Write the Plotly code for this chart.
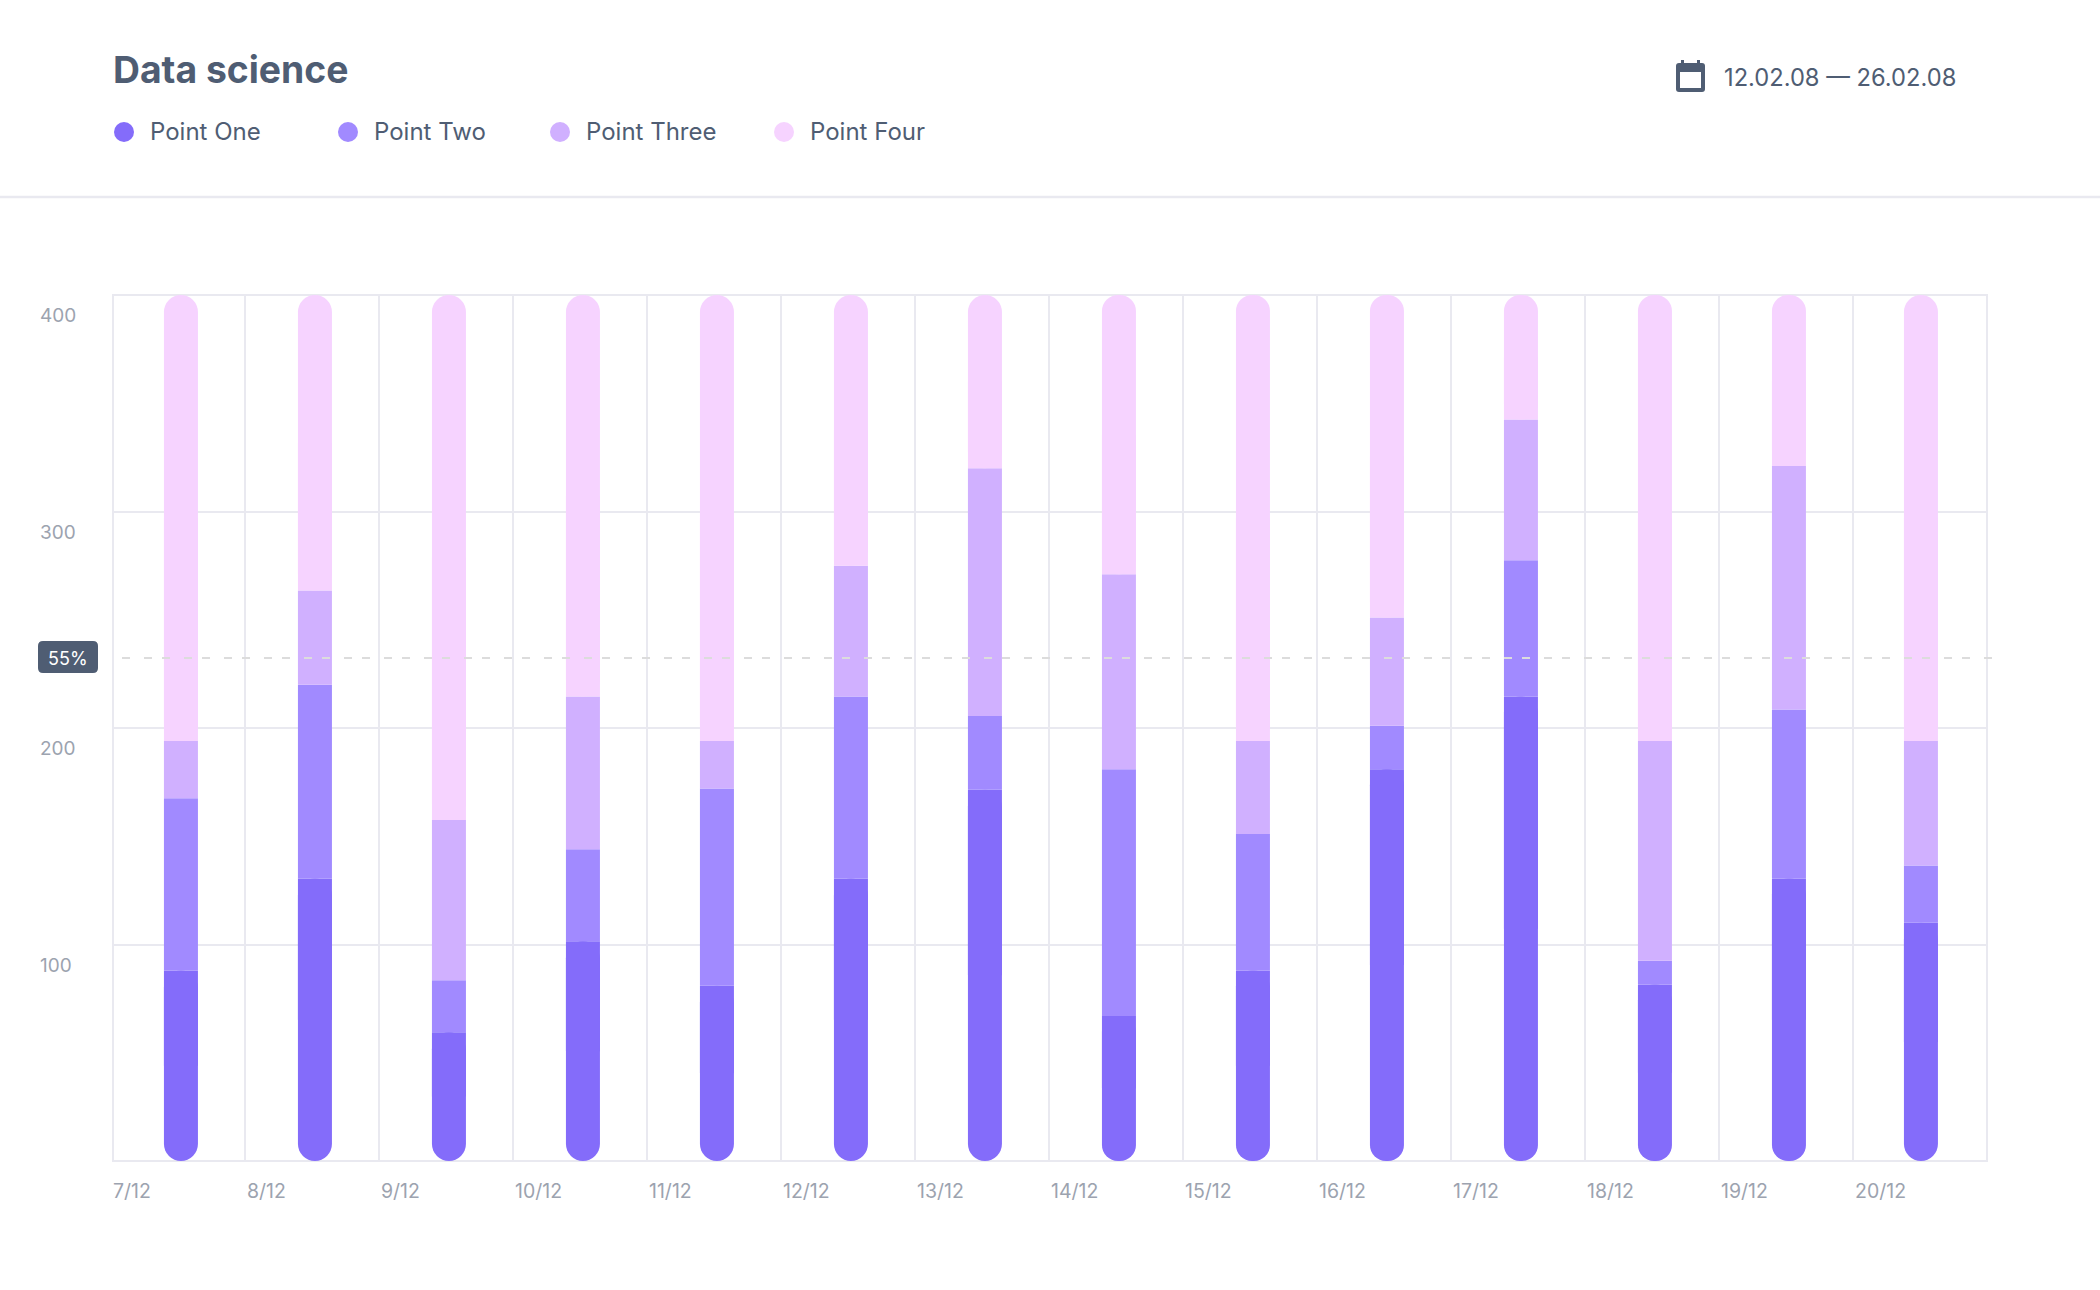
import numpy as np
import plotly.graph_objects as go

# values
dates = ['7/12', '8/12', '9/12', '10/12', '11/12', '12/12', '13/12', '14/12', '15/12', '16/12', '17/12', '18/12', '19/12', '20/12']
point_one = [88, 130.5, 59.5, 101.5, 81, 130.5, 171.5, 67, 88, 181, 214.5, 81.5, 130.5, 110]
point_two = [79.5, 89.5, 24, 42.5, 91, 84, 34, 114, 63, 20, 63, 11, 78, 26.5]
point_three = [26.5, 43.5, 74, 70.5, 22, 60.5, 114.5, 90, 43, 50, 65, 101.5, 112.5, 57.5]
point_four = [206, 136.5, 242.5, 185.5, 206, 125, 80, 129, 206, 149, 57.5, 206, 79, 206]
y_ticks = [100, 200, 300, 400]
marker_value = 232.3
marker_label = '55%'
legend_names = ['Point One', 'Point Two', 'Point Three', 'Point Four']
colors = ['#846cfa', '#a18aff', '#d0b0ff', '#f6d3ff']

GRID = '#e9e9f0'
DARK = '#4f5d73'
MUTED = '#9ca3af'
W, H = 2100, 1290
L, R, T, B = 113, 1987, 295, 1161


def px_x(v):
    return (v - L) / (R - L)


def px_y(v):
    return (B - v) / (B - T)


x = np.arange(len(dates), dtype=float)
x[-1] = 12.985  # last bar sits a touch left in the original
x_min, x_max = -0.507, 13.478
grid_x = np.arange(len(dates)) + 0.478

c1 = np.array(point_one, dtype=float)
c2 = c1 + np.array(point_two)
c3 = c2 + np.array(point_three)
p4 = np.array(point_four, dtype=float)

bar_width = 0.2537
fig = go.Figure()


def add_bar(y, base, color, name, radius=0):
    fig.add_trace(go.Bar(x=x, y=y, base=base, width=bar_width, name=name,
                         marker=dict(color=color, cornerradius=radius, line=dict(width=0))))


# plotly rounds both ends here, so the inner end of the two outer segments
# gets covered again by a square bar of the same colour
add_bar(c1, 0, colors[0], legend_names[0], radius=17)
add_bar(c1 / 2, c1 / 2, colors[0], legend_names[0])
add_bar(point_two, c1, colors[1], legend_names[1])
add_bar(point_three, c2, colors[2], legend_names[2])
add_bar(p4, c3, colors[3], legend_names[3], radius=17)
add_bar(p4 / 2, c3, colors[3], legend_names[3])

annotations = []


def add_text(text, px, py, size, color, weight=None, family='Inter'):
    annotations.append(dict(text=text, x=px_x(px), y=px_y(py), xref='paper', yref='paper', xanchor='left', yanchor='middle',
                            showarrow=False, font=dict(family=family, size=size, color=color, weight=weight)))


add_text('Data science', 111, 70, 37.3, DARK, weight=700)
add_text('12.02.08 — 26.02.08', 1722, 77, 23.7, DARK)
add_text(marker_label, 46, 658, 18, 'white')

shapes = []
# frame round the plot, the edge gridlines are not drawn by the axes
shapes.append(dict(type='rect', xref='paper', yref='paper', x0=0, x1=1, y0=0, y1=1, layer='below',
                   line=dict(color=GRID, width=2)))

# legend dots and names
for name, color, dot_x, text_x in zip(legend_names, colors, [124, 348, 560, 784], [148, 372, 584, 808]):
    shapes.append(dict(type='circle', xref='paper', yref='paper', x0=px_x(dot_x - 10), x1=px_x(dot_x + 10),
                       y0=px_y(142), y1=px_y(122), fillcolor=color, line=dict(width=0)))
    add_text(name, text_x, 132, 24, DARK)

# y labels sit under their gridlines, x labels start at the gridline
for v in y_ticks:
    annotations.append(dict(text=str(v), x=px_x(38), y=v, xref='paper', yref='y', yshift=-20.5, xanchor='left', yanchor='middle',
                            showarrow=False, font=dict(family='Inter', size=19, color=MUTED)))
for i, d in enumerate(dates):
    annotations.append(dict(text=d, x=px_x(111 + 134 * i), y=0, xref='paper', yref='y', yshift=-30, xanchor='left', yanchor='middle',
                            showarrow=False, font=dict(family='Inter', size=19.5, color=MUTED)))

# header separator
shapes.append(dict(type='line', xref='paper', yref='paper', x0=px_x(0), x1=px_x(W), y0=px_y(197), y1=px_y(197),
                   line=dict(color=GRID, width=2.5)))

# dashed marker and badge
shapes.append(dict(type='line', xref='paper', yref='y', x0=px_x(122), x1=px_x(1993), y0=marker_value, y1=marker_value,
                   line=dict(color='#dcdcdc', width=2, dash='8px,14px,8px,10px')))


def rounded_rect(x0, y0, x1, y1, r):
    return (f'M {px_x(x0 + r)} {px_y(y0)} L {px_x(x1 - r)} {px_y(y0)} Q {px_x(x1)} {px_y(y0)} {px_x(x1)} {px_y(y0 + r)} '
            f'L {px_x(x1)} {px_y(y1 - r)} Q {px_x(x1)} {px_y(y1)} {px_x(x1 - r)} {px_y(y1)} '
            f'L {px_x(x0 + r)} {px_y(y1)} Q {px_x(x0)} {px_y(y1)} {px_x(x0)} {px_y(y1 - r)} '
            f'L {px_x(x0)} {px_y(y0 + r)} Q {px_x(x0)} {px_y(y0)} {px_x(x0 + r)} {px_y(y0)} Z')


shapes.append(dict(type='path', xref='paper', yref='paper', path=rounded_rect(38, 641, 98, 673, 5), fillcolor=DARK, line=dict(width=0)))

# calendar icon
shapes.append(dict(type='path', xref='paper', yref='paper', path=rounded_rect(1676, 63, 1705, 92, 3), fillcolor=DARK, line=dict(width=0)))
shapes.append(dict(type='rect', xref='paper', yref='paper', x0=px_x(1680), x1=px_x(1701), y0=px_y(88), y1=px_y(72), fillcolor='white', line=dict(width=0)))
shapes.append(dict(type='rect', xref='paper', yref='paper', x0=px_x(1681), x1=px_x(1684), y0=px_y(64), y1=px_y(60), fillcolor=DARK, line=dict(width=0)))
shapes.append(dict(type='rect', xref='paper', yref='paper', x0=px_x(1697), x1=px_x(1700), y0=px_y(64), y1=px_y(60), fillcolor=DARK, line=dict(width=0)))

fig.update_layout(
    width=W, height=H,
    margin=dict(l=L, r=W - R, t=T, b=H - B, autoexpand=False),
    paper_bgcolor='white', plot_bgcolor='white',
    barmode='overlay', showlegend=False,
    annotations=annotations, shapes=shapes,
    xaxis=dict(range=[x_min, x_max], tickvals=grid_x, showticklabels=False, ticks='', showgrid=True, gridcolor=GRID, gridwidth=2,
               zeroline=False, showline=False),
    yaxis=dict(range=[0, 400], tickvals=y_ticks, showticklabels=False, ticks='', showgrid=True, gridcolor=GRID, gridwidth=2,
               zeroline=False, showline=False),
)

fig.write_html("out.html", config={'displayModeBar': False}, post_script="document.body.style.margin='0';")
